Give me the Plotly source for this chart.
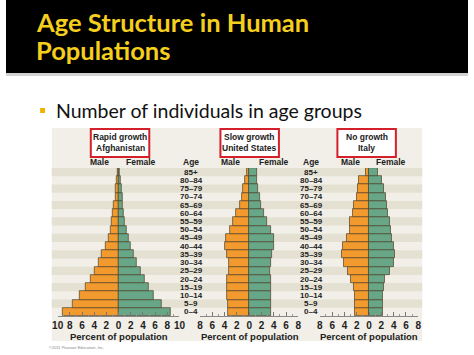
import plotly.graph_objects as go

W, H = 474, 355

ages = ["0–4", "5–9", "10–14", "15–19", "20–24", "25–29", "30–34", "35–39", "40–44",
        "45–49", "50–54", "55–59", "60–64", "65–69", "70–74", "75–79", "80–84", "85+"]

# Percent of population, ordered from 0–4 up to 85+
afg_male = [9.1, 7.5, 6.4, 5.4, 4.6, 4.0, 3.3, 2.7, 2.2, 1.7, 1.3, 1.1, 0.9, 0.75, 0.5, 0.4, 0.3, 0.2]
afg_female = [8.6, 7.0, 5.7, 4.9, 4.3, 3.6, 3.0, 2.5, 2.0, 1.6, 1.3, 1.05, 0.9, 0.75, 0.65, 0.5, 0.35, 0.2]
us_male = [3.5, 3.5, 3.6, 3.6, 3.6, 3.3, 3.3, 3.6, 3.9, 3.8, 3.2, 2.7, 2.1, 1.5, 1.2, 1.0, 0.65, 0.4]
us_female = [3.5, 3.5, 3.5, 3.6, 3.5, 3.4, 3.5, 3.7, 4.0, 4.0, 3.5, 2.9, 2.4, 1.9, 1.7, 1.5, 1.3, 1.2]
ita_male = [2.3, 2.3, 2.3, 2.4, 2.9, 3.4, 4.1, 4.4, 4.2, 3.6, 3.2, 3.1, 2.6, 2.4, 2.05, 1.75, 1.65, 0.6]
ita_female = [2.2, 2.2, 2.3, 2.4, 2.6, 3.3, 4.0, 4.2, 4.1, 3.65, 3.5, 3.4, 3.1, 2.95, 2.75, 2.4, 2.05, 1.5]

panel_titles = [("Rapid growth", "Afghanistan"), ("Slow growth", "United States"), ("No growth", "Italy")]
axis_max = [10, 8, 8]

def fx(x):
    return x / W

def fy(y):
    return 1 - y / H

ORANGE = "#f29a2e"
GREEN = "#67a686"
EDGE = "#4f4028"
TXT = "#222222"

fig = go.Figure()
ypos = list(range(len(ages)))
data = [(afg_male, afg_female), (us_male, us_female), (ita_male, ita_female)]
xnames = ["x", "x2", "x3"]
for i, (m, f) in enumerate(data):
    fig.add_trace(go.Bar(y=ypos, x=[-v for v in m], orientation="h", base=0,
                         marker=dict(color=ORANGE, line=dict(color=EDGE, width=0.7)),
                         width=1, xaxis=xnames[i], yaxis="y", showlegend=False, hoverinfo="skip"))
    fig.add_trace(go.Bar(y=ypos, x=f, orientation="h", base=0,
                         marker=dict(color=GREEN, line=dict(color=EDGE, width=0.7)),
                         width=1, xaxis=xnames[i], yaxis="y", showlegend=False, hoverinfo="skip"))

shapes = []
# title band
shapes.append(dict(type="rect", xref="paper", yref="paper", x0=0, x1=1, y0=fy(73), y1=1,
                   fillcolor="black", line=dict(width=0), layer="below"))
shapes.append(dict(type="rect", xref="paper", yref="paper", x0=0, x1=1, y0=fy(76), y1=fy(73),
                   fillcolor="#d2d2d2", line=dict(width=0), layer="below"))
# bullet
shapes.append(dict(type="rect", xref="paper", yref="paper", x0=fx(35), x1=fx(40), y0=fy(113), y1=fy(108),
                   fillcolor="#f0b400", line=dict(width=0), layer="below"))
# panel background
shapes.append(dict(type="rect", xref="paper", yref="paper", x0=fx(47), x1=fx(427), y0=fy(341), y1=fy(128),
                   fillcolor="#f1efe7", line=dict(width=0), layer="below"))
# stripes
for k in range(1, len(ages), 2):
    shapes.append(dict(type="rect", xref="paper", yref="y", x0=fx(47), x1=fx(427), y0=k - 0.5, y1=k + 0.5,
                       fillcolor="#e4e1d3", line=dict(width=0), layer="below"))
# red boxes
boxes = [(87, 147), (220, 280), (340, 400)]
for (a, b) in boxes:
    shapes.append(dict(type="rect", xref="paper", yref="paper", x0=fx(a), x1=fx(b), y0=fy(157), y1=fy(129),
                       fillcolor="white", line=dict(color="#d4202a", width=2)))
fig.update_layout(shapes=shapes)

def note(text, x, y, size, family="Liberation Sans", color=TXT, xanchor="center", yref="paper", weight=None):
    font = dict(family=family, size=size, color=color)
    if weight:
        font["weight"] = weight
    return dict(text=text, x=x, y=y, xref="paper", yref=yref, xanchor=xanchor, yanchor="middle",
                showarrow=False, font=font)

ann = []
ann.append(note("Age Structure in Human", fx(29), fy(22), 25.5, family="Lato", color="#f5cf1e",
                xanchor="left", weight="bold"))
ann.append(note("Populations", fx(29), fy(50), 25.5, family="Lato", color="#f5cf1e",
                xanchor="left", weight="bold"))
ann.append(note("Number of individuals in age groups", fx(49), fy(110), 19.5, family="Lato",
                color="#111111", xanchor="left"))

centers = [116, 250, 372]
male_x = [96, 230, 353]
female_x = [138, 275, 395]
for i in range(3):
    (a, b) = boxes[i]
    cx = (a + b) / 2
    ann.append(note("<b>%s</b>" % panel_titles[i][0], fx(cx), fy(137), 8.5))
    ann.append(note("<b>%s</b>" % panel_titles[i][1], fx(cx), fy(148), 8.5))
    ann.append(note("<b>Male</b>", fx(male_x[i]), fy(162), 8.5))
    ann.append(note("<b>Female</b>", fx(female_x[i]), fy(162), 8.5))
    ann.append(note("<b>Percent of population</b>", fx(centers[i]), fy(336), 9.5))

for ax_x in [190, 313]:
    ann.append(note("<b>Age</b>", fx(ax_x), fy(162), 8.5))
    for k, lab in enumerate(ages):
        ann.append(note("<b>%s</b>" % lab, fx(ax_x), k, 8, yref="y"))

ann.append(note("©2011 Pearson Education, Inc.", fx(42), fy(347), 4, color="#888888", xanchor="left"))
fig.update_layout(annotations=ann)

domains = [(53, 178), (199, 300), (322, 423)]
for i in range(3):
    mx = axis_max[i]
    vals = list(range(-mx, mx + 1, 2))
    minor_vals = list(range(-mx + 1, mx, 2))
    axis = dict(domain=[fx(domains[i][0]), fx(domains[i][1])], range=[-mx, mx], anchor="y",
                tickmode="array", tickvals=vals, ticktext=["<b>%d</b>" % abs(v) for v in vals],
                ticks="inside", ticklen=4, tickcolor="#777777", showline=True, linecolor="#888888",
                linewidth=1, showgrid=False, zeroline=False, fixedrange=True,
                minor=dict(tickvals=minor_vals, ticks="inside", ticklen=2, tickcolor="#999999"),
                tickfont=dict(family="Liberation Sans", size=10, color=TXT))
    key = "xaxis" if i == 0 else "xaxis%d" % (i + 1)
    fig.update_layout(**{key: axis})

fig.update_layout(
    width=W, height=H, margin=dict(l=0, r=0, t=0, b=0),
    paper_bgcolor="white", plot_bgcolor="rgba(0,0,0,0)",
    barmode="relative", bargap=0,
    yaxis=dict(domain=[fy(316), fy(168)], range=[-0.5, 17.5], visible=False, fixedrange=True),
)

fig.write_html("out.html")
